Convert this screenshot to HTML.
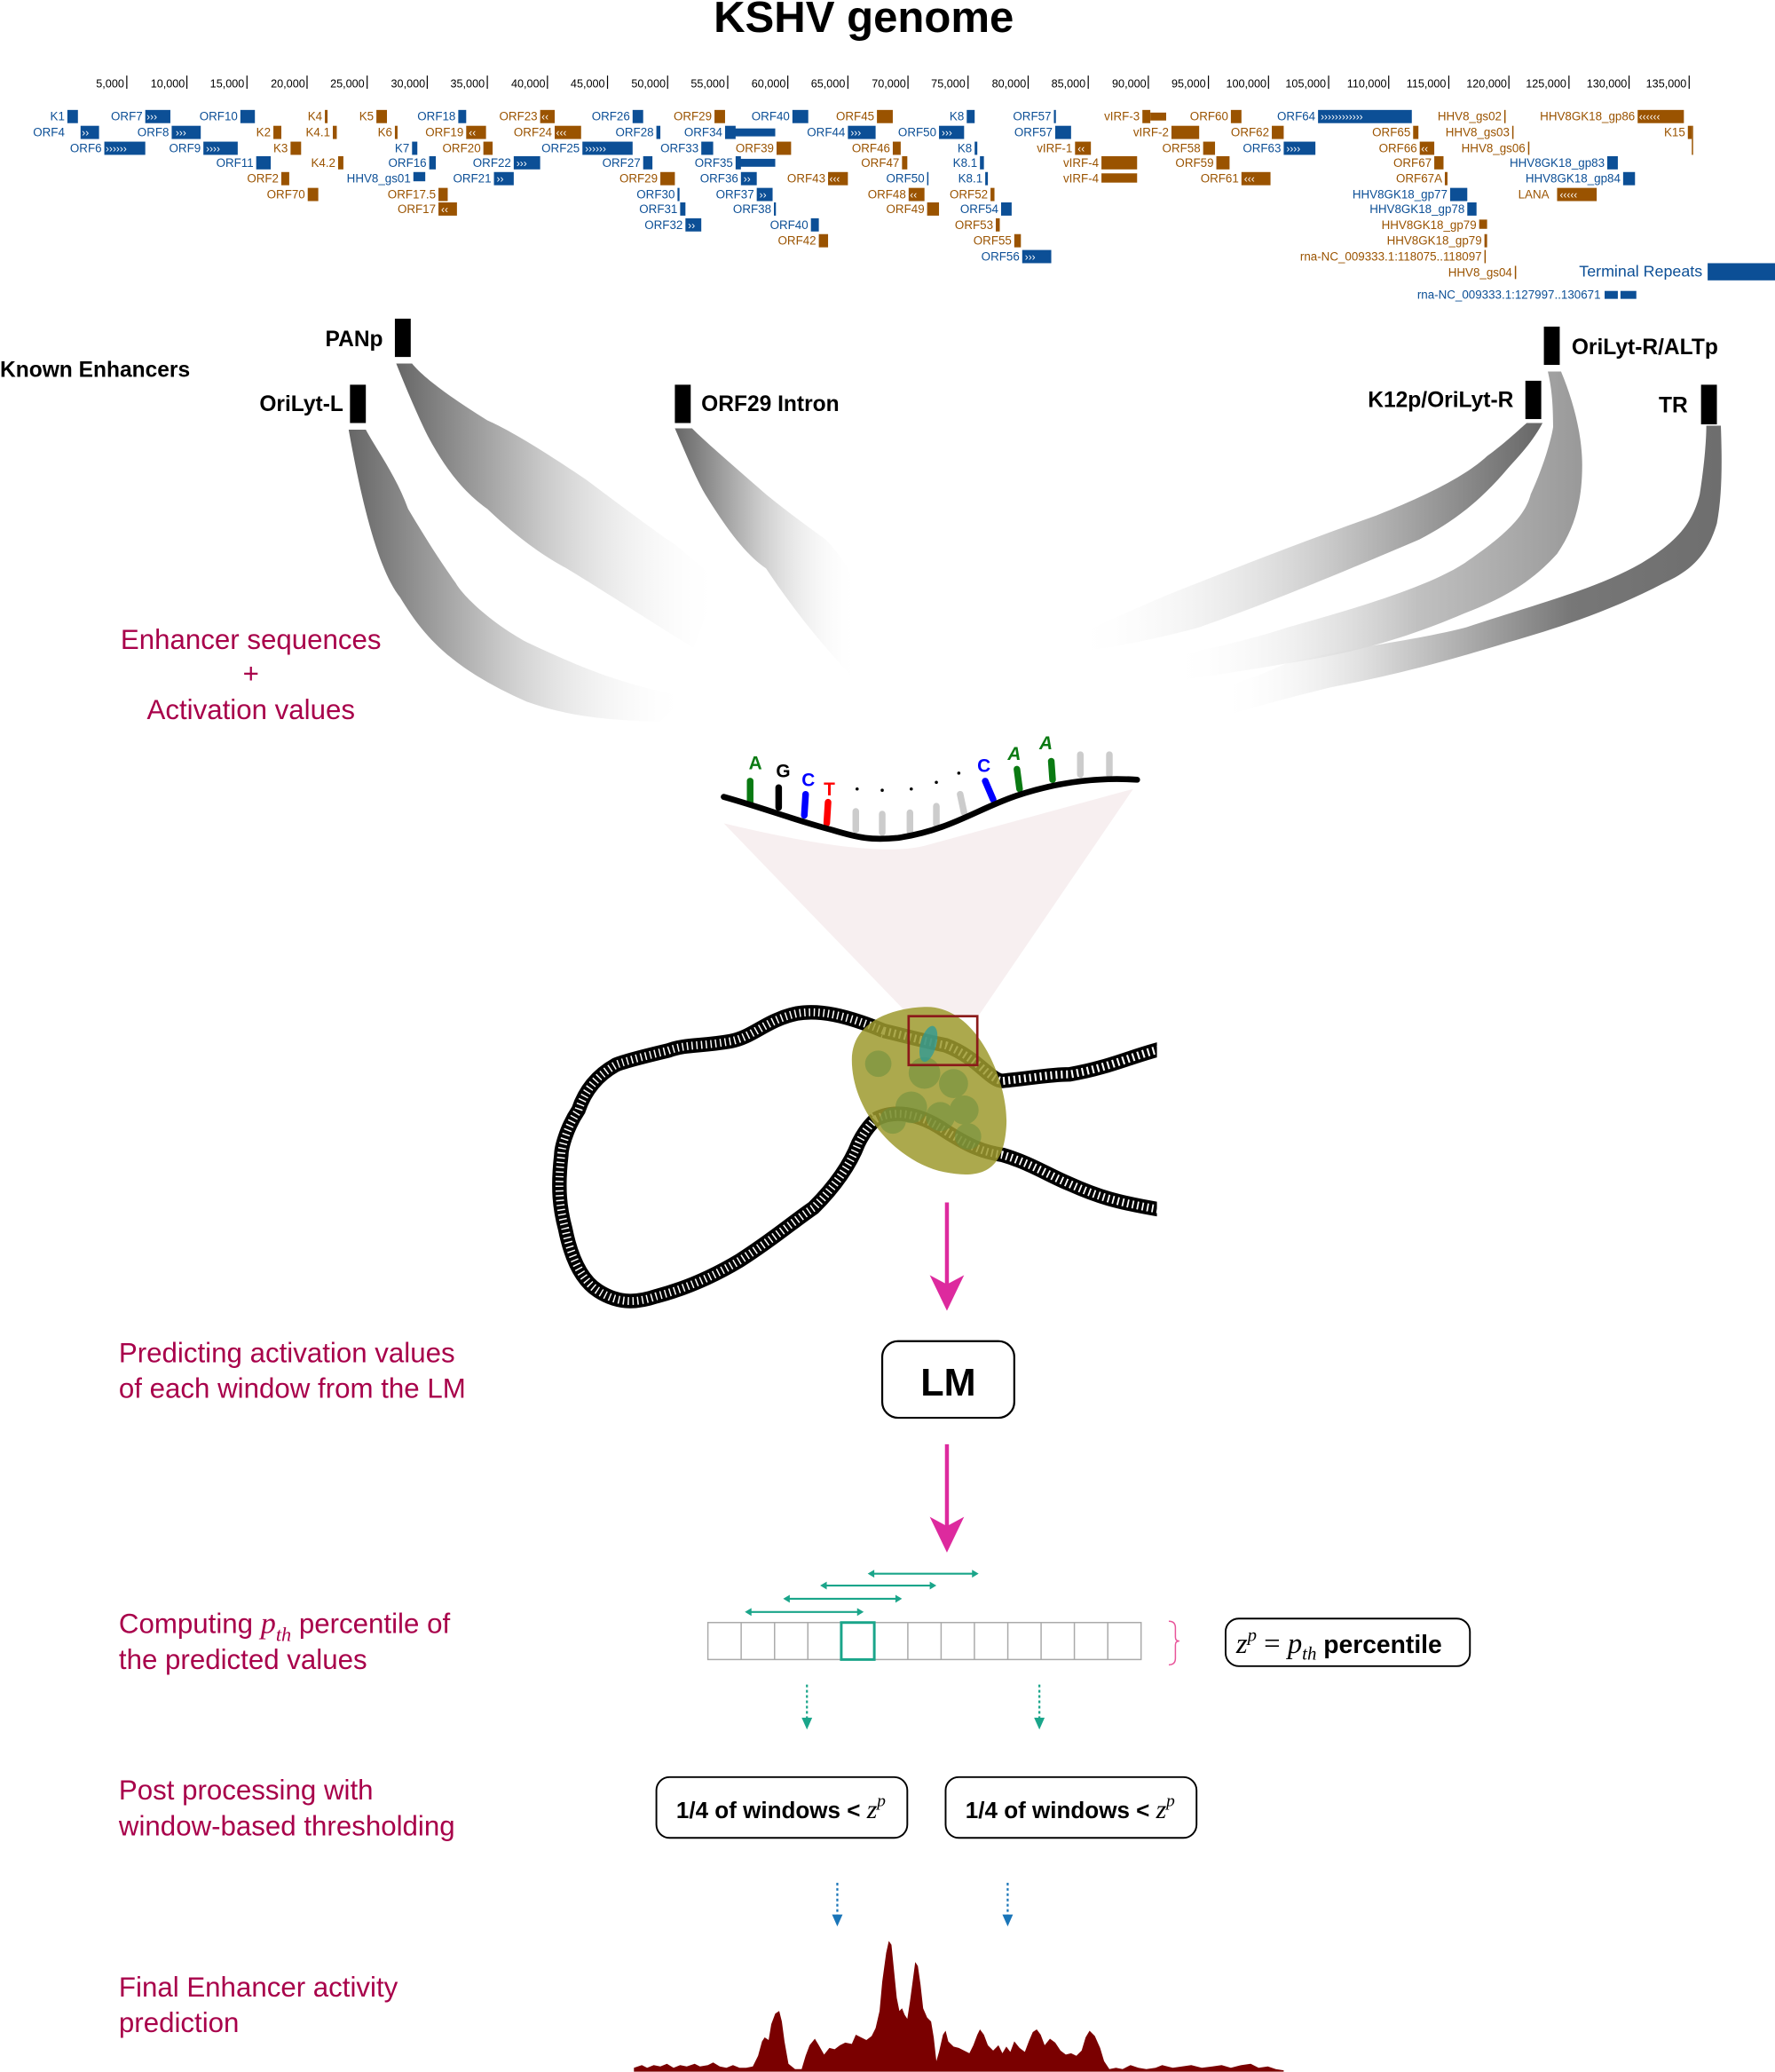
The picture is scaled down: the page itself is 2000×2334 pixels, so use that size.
<!DOCTYPE html>
<html><head><meta charset="utf-8"><style>
html,body{margin:0;padding:0;background:#fff;}
svg{display:block;}
.g{font-family:"Liberation Sans",sans-serif;font-size:9px;}
.b{fill:#0c4f96;} .o{fill:#9a5300;}
.tb{fill:#0c4f96;} .to{fill:#9a5300;}
.bl{font-family:"Liberation Sans",sans-serif;font-weight:bold;font-size:16.5px;fill:#000;}
.rd{font-family:"Liberation Sans",sans-serif;font-size:21px;fill:#a8004a;}
.tk{font-family:"Liberation Sans",sans-serif;font-size:8.5px;fill:#000;}
</style></head><body>
<svg width="2000" height="2334" viewBox="0 0 1344 1568" xmlns="http://www.w3.org/2000/svg">
<defs>
<linearGradient id="gL" x1="0" y1="0" x2="1" y2="0"><stop offset="0" stop-color="#666"/><stop offset="0.45" stop-color="#c8c8c8"/><stop offset="1" stop-color="#fff" stop-opacity="0"/></linearGradient>
<linearGradient id="gR" x1="1" y1="0" x2="0" y2="0"><stop offset="0" stop-color="#666"/><stop offset="0.45" stop-color="#c8c8c8"/><stop offset="1" stop-color="#fff" stop-opacity="0"/></linearGradient>
<linearGradient id="gR2" x1="1" y1="0" x2="0" y2="0"><stop offset="0" stop-color="#999"/><stop offset="0.4" stop-color="#c0c0c0"/><stop offset="1" stop-color="#fff" stop-opacity="0"/></linearGradient>
<linearGradient id="gR3" x1="1" y1="0" x2="0" y2="0"><stop offset="0" stop-color="#6e6e6e"/><stop offset="0.3" stop-color="#777"/><stop offset="0.65" stop-color="#cfcfcf"/><stop offset="1" stop-color="#fff" stop-opacity="0"/></linearGradient>
</defs>

<text x="654" y="24" text-anchor="middle" font-family="Liberation Sans,sans-serif" font-weight="bold" font-size="33">KSHV genome</text>

<g class="tk" text-anchor="end">
<text x="94" y="66">5,000</text><text x="140" y="66">10,000</text><text x="185" y="66">15,000</text><text x="231" y="66">20,000</text><text x="276" y="66">25,000</text><text x="322" y="66">30,000</text><text x="367" y="66">35,000</text><text x="413" y="66">40,000</text><text x="458" y="66">45,000</text><text x="504" y="66">50,000</text><text x="549" y="66">55,000</text><text x="595" y="66">60,000</text><text x="640" y="66">65,000</text><text x="686" y="66">70,000</text><text x="731" y="66">75,000</text><text x="777" y="66">80,000</text><text x="822" y="66">85,000</text><text x="868" y="66">90,000</text><text x="913" y="66">95,000</text><text x="959" y="66">100,000</text><text x="1004" y="66">105,000</text><text x="1050" y="66">110,000</text><text x="1095" y="66">115,000</text><text x="1141" y="66">120,000</text><text x="1186" y="66">125,000</text><text x="1232" y="66">130,000</text><text x="1277" y="66">135,000</text>
</g>
<g stroke="#000" stroke-width="0.8">
<path d="M96 57v10M141.5 57v10M187 57v10M232.5 57v10M278 57v10M323.5 57v10M369 57v10M414.5 57v10M460 57v10M505.5 57v10M551 57v10M596.5 57v10M642 57v10M687.5 57v10M733 57v10M778.5 57v10M824 57v10M869.5 57v10M915 57v10M960.5 57v10M1006 57v10M1051.5 57v10M1097 57v10M1142.5 57v10M1188 57v10M1233.5 57v10M1279 57v10"/>
</g>

<g class="b">
<rect x="51" y="83" width="8" height="10"/><rect x="110" y="83" width="19" height="10"/><rect x="182" y="83" width="11" height="10"/><rect x="347" y="83" width="6" height="10"/><rect x="479" y="83" width="8" height="10"/><rect x="600" y="83" width="12" height="10"/><rect x="732" y="83" width="6" height="10"/><rect x="798" y="83" width="1.5" height="10"/><rect x="998" y="83" width="71" height="10"/>
<rect x="61" y="95" width="14" height="10"/><rect x="130" y="95" width="22" height="10"/><rect x="497" y="95" width="3" height="10"/><rect x="549" y="95" width="8" height="10"/><rect x="555" y="97" width="32" height="6"/><rect x="642" y="95" width="21" height="10"/><rect x="711" y="95" width="19" height="10"/><rect x="799" y="95" width="12" height="10"/>
<rect x="79" y="107" width="31" height="10"/><rect x="154" y="107" width="26" height="10"/><rect x="312" y="107" width="4" height="10"/><rect x="441" y="107" width="38" height="10"/><rect x="531" y="107" width="9" height="10"/><rect x="738" y="107" width="2" height="10"/><rect x="972" y="107" width="24" height="10"/>
<rect x="194" y="118" width="11" height="10"/><rect x="325" y="118" width="5" height="10"/><rect x="389" y="118" width="20" height="10"/><rect x="487" y="118" width="7" height="10"/><rect x="557" y="118" width="4" height="10"/><rect x="560" y="120" width="27" height="6"/><rect x="742" y="118" width="3" height="10"/><rect x="1217" y="118" width="8" height="10"/>
<rect x="313" y="130" width="9" height="7"/><rect x="374" y="130" width="15" height="10"/><rect x="561" y="130" width="12" height="10"/><rect x="702" y="130" width="1" height="10"/><rect x="746" y="130" width="2" height="10"/><rect x="1229" y="130" width="9" height="10"/>
<rect x="513" y="142" width="1.5" height="10"/><rect x="573" y="142" width="12" height="10"/><rect x="1098" y="142" width="13" height="10"/>
<rect x="515" y="153" width="4" height="10"/><rect x="586" y="153" width="1.5" height="10"/><rect x="758" y="153" width="8" height="10"/><rect x="1111" y="153" width="7" height="10"/>
<rect x="519" y="165" width="12" height="10"/><rect x="614" y="165" width="6" height="10"/>
<rect x="774" y="189" width="22" height="10"/>
<rect x="1293" y="199" width="51" height="13"/>
<rect x="1215" y="220" width="10" height="6"/><rect x="1227" y="220" width="12" height="6"/>
</g>
<g class="o">
<rect x="246" y="83" width="2" height="10"/><rect x="285" y="83" width="8" height="10"/><rect x="409" y="83" width="11" height="10"/><rect x="541" y="83" width="8" height="10"/><rect x="664" y="83" width="12" height="10"/><rect x="865" y="83" width="6" height="10"/><rect x="871" y="85" width="12" height="6"/><rect x="932" y="83" width="8" height="10"/><rect x="1139" y="83" width="1" height="10"/><rect x="1240" y="83" width="35" height="10"/>
<rect x="207" y="95" width="6" height="10"/><rect x="252" y="95" width="3" height="10"/><rect x="299" y="95" width="2" height="10"/><rect x="353" y="95" width="15" height="10"/><rect x="420" y="95" width="20" height="10"/><rect x="887" y="95" width="21" height="10"/><rect x="963" y="95" width="9" height="10"/><rect x="1070" y="95" width="4" height="10"/><rect x="1145" y="95" width="1" height="10"/><rect x="1278" y="95" width="3" height="10"/><rect x="1281" y="95" width="1" height="22"/>
<rect x="220" y="107" width="8" height="10"/><rect x="366" y="107" width="7" height="10"/><rect x="588" y="107" width="11" height="10"/><rect x="676" y="107" width="6" height="10"/><rect x="814" y="107" width="12" height="10"/><rect x="911" y="107" width="9" height="10"/><rect x="1075" y="107" width="11" height="10"/><rect x="1157" y="107" width="1" height="10"/>
<rect x="256" y="118" width="4" height="10"/><rect x="683" y="118" width="4" height="10"/><rect x="834" y="118" width="27" height="10"/><rect x="921" y="118" width="10" height="10"/><rect x="1086" y="118" width="7" height="10"/>
<rect x="213" y="130" width="6" height="10"/><rect x="500" y="130" width="11" height="10"/><rect x="627" y="130" width="15" height="10"/><rect x="834" y="131" width="27" height="7"/><rect x="940" y="130" width="22" height="10"/><rect x="1094" y="130" width="2" height="10"/>
<rect x="233" y="142" width="8" height="10"/><rect x="332" y="142" width="7" height="10"/><rect x="688" y="142" width="12" height="10"/><rect x="750" y="142" width="3" height="10"/><rect x="1179" y="142" width="30" height="10"/>
<rect x="332" y="153" width="14" height="10"/><rect x="702" y="153" width="9" height="10"/>
<rect x="754" y="165" width="3" height="10"/><rect x="1120" y="166" width="6" height="7"/>
<rect x="620" y="177" width="7" height="10"/><rect x="768" y="177" width="5" height="10"/><rect x="1124" y="177" width="2" height="10"/>
<rect x="1124" y="189" width="1" height="10"/>
<rect x="1147" y="201" width="1" height="10"/>
</g>
<g font-family="Liberation Sans,sans-serif" font-size="8" fill="#fff">
<text x="111" y="91">›››</text><text x="1000" y="91">››››››››››››</text><text x="62" y="103">››</text><text x="133" y="103">›››</text><text x="644" y="103">›››</text><text x="713" y="103">›››</text><text x="80" y="115">››››››</text><text x="156" y="115">››››</text><text x="443" y="115">››››››</text><text x="974" y="115">››››</text><text x="391" y="126">›››</text><text x="376" y="138">››</text><text x="563" y="138">››</text><text x="575" y="150">››</text><text x="521" y="173">››</text><text x="776" y="197">›››</text>
<text x="1241" y="91">‹‹‹‹‹‹</text><text x="410" y="91">‹‹</text><text x="355" y="103">‹‹</text><text x="421" y="103">‹‹‹</text><text x="1076" y="115">‹‹</text><text x="816" y="115">‹‹</text><text x="628" y="138">‹‹‹</text><text x="942" y="138">‹‹‹</text><text x="1181" y="150">‹‹‹‹‹</text><text x="334" y="161">‹‹</text><text x="689" y="150">‹‹</text>
</g>
<g class="g" text-anchor="end">
<g class="tb">
<text x="49" y="91">K1</text><text x="108" y="91">ORF7</text><text x="180" y="91">ORF10</text><text x="345" y="91">ORF18</text><text x="477" y="91">ORF26</text><text x="598" y="91">ORF40</text><text x="730" y="91">K8</text><text x="796" y="91">ORF57</text><text x="996" y="91">ORF64</text>
<text x="49" y="103">ORF4</text><text x="128" y="103">ORF8</text><text x="495" y="103">ORF28</text><text x="547" y="103">ORF34</text><text x="640" y="103">ORF44</text><text x="709" y="103">ORF50</text><text x="797" y="103">ORF57</text>
<text x="77" y="115">ORF6</text><text x="152" y="115">ORF9</text><text x="310" y="115">K7</text><text x="439" y="115">ORF25</text><text x="529" y="115">ORF33</text><text x="736" y="115">K8</text><text x="970" y="115">ORF63</text>
<text x="192" y="126">ORF11</text><text x="323" y="126">ORF16</text><text x="387" y="126">ORF22</text><text x="485" y="126">ORF27</text><text x="555" y="126">ORF35</text><text x="740" y="126">K8.1</text><text x="1215" y="126">HHV8GK18_gp83</text>
<text x="311" y="138">HHV8_gs01</text><text x="372" y="138">ORF21</text><text x="559" y="138">ORF36</text><text x="700" y="138">ORF50</text><text x="744" y="138">K8.1</text><text x="1227" y="138">HHV8GK18_gp84</text>
<text x="511" y="150">ORF30</text><text x="571" y="150">ORF37</text><text x="1096" y="150">HHV8GK18_gp77</text>
<text x="513" y="161">ORF31</text><text x="584" y="161">ORF38</text><text x="756" y="161">ORF54</text><text x="1109" y="161">HHV8GK18_gp78</text>
<text x="517" y="173">ORF32</text><text x="612" y="173">ORF40</text>
<text x="772" y="197">ORF56</text>
<text x="1212" y="226">rna-NC_009333.1:127997..130671</text>
</g>
<g class="to">
<text x="244" y="91">K4</text><text x="283" y="91">K5</text><text x="407" y="91">ORF23</text><text x="539" y="91">ORF29</text><text x="662" y="91">ORF45</text><text x="863" y="91">vIRF-3</text><text x="930" y="91">ORF60</text><text x="1137" y="91">HHV8_gs02</text><text x="1238" y="91">HHV8GK18_gp86</text>
<text x="205" y="103">K2</text><text x="250" y="103">K4.1</text><text x="297" y="103">K6</text><text x="351" y="103">ORF19</text><text x="418" y="103">ORF24</text><text x="885" y="103">vIRF-2</text><text x="961" y="103">ORF62</text><text x="1068" y="103">ORF65</text><text x="1143" y="103">HHV8_gs03</text><text x="1276" y="103">K15</text>
<text x="218" y="115">K3</text><text x="364" y="115">ORF20</text><text x="586" y="115">ORF39</text><text x="674" y="115">ORF46</text><text x="812" y="115">vIRF-1</text><text x="909" y="115">ORF58</text><text x="1073" y="115">ORF66</text><text x="1155" y="115">HHV8_gs06</text>
<text x="254" y="126">K4.2</text><text x="681" y="126">ORF47</text><text x="832" y="126">vIRF-4</text><text x="919" y="126">ORF59</text><text x="1084" y="126">ORF67</text>
<text x="211" y="138">ORF2</text><text x="498" y="138">ORF29</text><text x="625" y="138">ORF43</text><text x="832" y="138">vIRF-4</text><text x="938" y="138">ORF61</text><text x="1092" y="138">ORF67A</text>
<text x="231" y="150">ORF70</text><text x="330" y="150">ORF17.5</text><text x="686" y="150">ORF48</text><text x="748" y="150">ORF52</text><text x="1173" y="150">LANA</text>
<text x="330" y="161">ORF17</text><text x="700" y="161">ORF49</text>
<text x="752" y="173">ORF53</text><text x="1118" y="173">HHV8GK18_gp79</text>
<text x="618" y="185">ORF42</text><text x="766" y="185">ORF55</text><text x="1122" y="185">HHV8GK18_gp79</text>
<text x="1122" y="197">rna-NC_009333.1:118075..118097</text>
<text x="1145" y="209">HHV8_gs04</text>
</g>
</g>
<text x="1289" y="209" text-anchor="end" font-family="Liberation Sans,sans-serif" font-size="12" fill="#0c4f96">Terminal Repeats</text>

<path d="M264 325 C272 370 285 430 303 452 C320 480 340 505 399 531 C430 542 460 545 500 546 L520 527 C480 520 450 510 399 486 C370 470 350 450 345 441 C330 420 318 400 309 385 C300 360 285 340 277 325 Z" fill="url(#gL)"/>
<path d="M300 275 C310 300 318 318 324 330 C340 360 355 375 369 385 C390 405 410 420 429 430 C470 455 500 475 525 490 L545 440 C520 420 510 410 505 408 C480 390 460 375 444 363 C410 340 385 325 369 318 C340 300 320 285 312 275 Z" fill="url(#gL)"/>
<path d="M511 324 C520 345 527 362 534 374 C550 400 565 420 580 430 C600 460 620 485 645 512 L650 445 C640 425 632 415 625 408 C600 390 590 382 580 374 C555 352 535 335 524 324 Z" fill="url(#gL)"/>
<path d="M1168 320 C1160 335 1150 345 1142 354 C1120 380 1100 395 1075 408 C1000 440 950 460 907 475 C870 485 840 490 813 494 L813 481 C840 470 870 455 907 441 C960 420 1000 405 1042 390 C1080 375 1110 360 1126 345 C1140 335 1150 325 1156 320 Z" fill="url(#gR)"/>
<path d="M1182 281 C1192 305 1198 330 1198 352 C1198 380 1192 400 1179 419 C1160 440 1140 452 1109 464 C1060 485 1020 495 974 502 C940 508 910 512 887 516 L887 497 C920 490 950 483 974 475 C1020 462 1080 445 1109 426 C1140 405 1155 390 1159 374 C1170 350 1175 330 1176 323 C1176 300 1174 290 1172 281 Z" fill="url(#gR2)"/>
<path d="M1303 322 C1304 350 1304 375 1300 396 C1293 420 1280 432 1260 441 C1220 462 1180 475 1142 486 C1090 502 1050 512 1008 520 C975 528 950 535 924 543 L924 520 C945 515 960 508 974 502 C1020 490 1070 485 1109 475 C1170 455 1210 445 1243 426 C1270 410 1282 395 1287 374 C1290 355 1292 335 1292 322 Z" fill="url(#gR3)"/>

<g fill="#000">
<rect x="299" y="241" width="12" height="29"/><rect x="265" y="291" width="12" height="29"/><rect x="511" y="291" width="12" height="29"/>
<rect x="1169" y="247" width="12" height="29"/><rect x="1155" y="288" width="12" height="29"/><rect x="1288" y="291" width="12" height="30"/>
</g>
<text x="0" y="285" class="bl" font-size="17.5">Known Enhancers</text>
<text x="290" y="262" class="bl" text-anchor="end" font-size="17.5">PANp</text>
<text x="260" y="311" class="bl" text-anchor="end" font-size="17.5">OriLyt-L</text>
<text x="531" y="311" class="bl" font-size="17.5">ORF29 Intron</text>
<text x="1190" y="268" class="bl" font-size="17.5">OriLyt-R/ALTp</text>
<text x="1146" y="308" class="bl" text-anchor="end" font-size="17.5">K12p/OriLyt-R</text>
<text x="1278" y="312" class="bl" text-anchor="end" font-size="17.5">TR</text>

<text x="190" y="491" class="rd" text-anchor="middle">Enhancer sequences</text>
<text x="190" y="517" class="rd" text-anchor="middle">+</text>
<text x="190" y="544" class="rd" text-anchor="middle">Activation values</text>

<path d="M548 623 Q660 650 700 640 L858 597 L740 770 L690 770 Z" fill="#f7eff0"/>

<g stroke-linecap="round" stroke-width="5">
<path d="M568 591L568 607" stroke="#0a7a12"/><path d="M589.6 596L589.6 611" stroke="#000"/><path d="M610 601L609 617" stroke="#00f"/><path d="M627 607L626 623" stroke="#f00"/>
<path d="M648 614V628M668 616V630M689 615V629M709 610V624M727 601L730 615" stroke="#ccc"/>
<path d="M746 591L752 605" stroke="#00f"/><path d="M770 582L772 597" stroke="#0a7a12"/><path d="M796 576L797 590" stroke="#0a7a12"/>
<path d="M818 571V586M840 571V586" stroke="#ccc"/>
</g>
<path d="M548 603 C580 612 600 620 630 628 C650 634 660 636 680 634 C720 628 740 612 770 602 C800 592 830 588 861 590" stroke="#000" stroke-width="4.5" fill="none" stroke-linecap="round"/>
<g font-family="Liberation Sans,sans-serif" font-weight="bold" font-size="14">
<text x="572" y="582" fill="#0a7a12" text-anchor="middle">A</text><text x="593" y="588" fill="#000" text-anchor="middle">G</text><text x="612" y="595" fill="#00f" text-anchor="middle">C</text><text x="628" y="602" fill="#f00" text-anchor="middle">T</text>
<text x="745" y="584" fill="#00f" text-anchor="middle">C</text><text x="768" y="575" fill="#0a7a12" text-anchor="middle" font-style="italic">A</text><text x="792" y="567" fill="#0a7a12" text-anchor="middle" font-style="italic">A</text>
</g>
<g fill="#000"><circle cx="649" cy="597" r="1.2"/><circle cx="668" cy="598" r="1.2"/><circle cx="690" cy="597" r="1.2"/><circle cx="709" cy="592" r="1.2"/><circle cx="726" cy="585" r="1.2"/></g>

<g fill="none" stroke-linecap="butt">
<path d="M669 780 C640 768 620 764 603 767 C580 772 570 785 553 788 C530 792 520 790 506 795 C485 800 470 804 466 806 C450 815 442 828 438 840 C428 855 425 870 425 874 C422 900 424 915 428 930 C433 955 442 970 453 977 C470 988 485 985 497 981 C520 975 540 966 560 954 C585 938 600 925 616 914 C635 895 645 878 650 865 C655 855 660 850 663 847" stroke="#000" stroke-width="11"/>
<path d="M669 780 C640 768 620 764 603 767 C580 772 570 785 553 788 C530 792 520 790 506 795 C485 800 470 804 466 806 C450 815 442 828 438 840 C428 855 425 870 425 874 C422 900 424 915 428 930 C433 955 442 970 453 977 C470 988 485 985 497 981 C520 975 540 966 560 954 C585 938 600 925 616 914 C635 895 645 878 650 865 C655 855 660 850 663 847" stroke="#fff" stroke-width="6" stroke-dasharray="1 2.6"/>
<path d="M669 780 C690 785 700 788 716 791 C740 800 750 818 759 818 C780 816 795 813 810 813 C840 808 860 798 882 793" stroke="#000" stroke-width="11"/>
<path d="M669 780 C690 785 700 788 716 791 C740 800 750 818 759 818 C780 816 795 813 810 813 C840 808 860 798 882 793" stroke="#fff" stroke-width="6" stroke-dasharray="1.4 2.6"/>
<path d="M663 847 C680 838 700 845 716 856 C735 868 745 872 759 874 C780 880 795 890 810 896 C830 905 845 910 882 916" stroke="#000" stroke-width="11"/>
<path d="M663 847 C680 838 700 845 716 856 C735 868 745 872 759 874 C780 880 795 890 810 896 C830 905 845 910 882 916" stroke="#fff" stroke-width="6" stroke-dasharray="1.2 2.6"/>
</g>
<rect x="876" y="780" width="20" height="150" fill="#fff"/>
<path d="M700 762 C740 760 764 820 762 852 C760 885 745 893 715 887 C680 880 645 842 645 802 C645 775 672 763 700 762 Z" fill="#9d9a2e" opacity="0.85"/>
<g fill="#6c8f3d" opacity="0.55">
<circle cx="665" cy="805" r="10"/><circle cx="700" cy="812" r="12"/><circle cx="722" cy="820" r="11"/><circle cx="730" cy="840" r="11"/><circle cx="690" cy="838" r="12"/><circle cx="712" cy="845" r="11"/><circle cx="733" cy="860" r="10"/><circle cx="676" cy="848" r="10"/></g>
<ellipse cx="703" cy="790" rx="6" ry="14" fill="#2a9a9a" opacity="0.75" transform="rotate(15 703 790)"/>
<rect x="688" y="769" width="52" height="37" fill="none" stroke="#8b1a1a" stroke-width="1.8"/>

<g fill="#dd2a9e" stroke="#dd2a9e">
<path d="M717 910V975" stroke-width="3"/><path d="M704 965 L717 972 L730 965 L717 992 Z" stroke="none"/>
<path d="M717 1093V1158" stroke-width="3"/><path d="M704 1148 L717 1155 L730 1148 L717 1175 Z" stroke="none"/>
</g>

<text x="90" y="1031" class="rd">Predicting activation values</text>
<text x="90" y="1058" class="rd">of each window from the LM</text>

<rect x="668" y="1015" width="100" height="58" rx="12" fill="#fff" stroke="#000" stroke-width="1.5"/>
<text x="718" y="1056" text-anchor="middle" font-family="Liberation Sans,sans-serif" font-weight="bold" font-size="29">LM</text>

<g stroke="#1aa58a" stroke-width="1.4" fill="#1aa58a">
<path d="M659 1191H739M623 1200H707M595 1210H681M566 1220H652"/>
<path d="M657 1191l5 -3v6zM741 1191l-5 -3v6zM621 1200l5 -3v6zM709 1200l-5 -3v6zM593 1210l5 -3v6zM683 1210l-5 -3v6zM564 1220l5 -3v6zM654 1220l-5 -3v6z" stroke="none"/>
</g>
<g fill="#fff" stroke="#aaa" stroke-width="1">
<rect x="536" y="1228" width="328" height="28"/>
<path d="M561.2 1228v28M586.5 1228v28M611.7 1228v28M636.9 1228v28M662.2 1228v28M687.4 1228v28M712.6 1228v28M737.8 1228v28M763.1 1228v28M788.3 1228v28M813.5 1228v28M838.8 1228v28"/>
</g>
<rect x="637" y="1228" width="25" height="28" fill="none" stroke="#1aa58a" stroke-width="2"/>
<path d="M885 1227 Q890 1227 890 1232 V1239 Q890 1242 893 1242 Q890 1242 890 1245 V1255 Q890 1260 885 1260" fill="none" stroke="#e8559a" stroke-width="1"/>
<rect x="928" y="1225" width="185" height="36" rx="10" fill="#fff" stroke="#000" stroke-width="1.3"/>
<text x="936" y="1251" font-family="Liberation Serif,serif" font-size="22"><tspan font-style="italic">z</tspan><tspan font-style="italic" font-size="14" dy="-9">p</tspan><tspan dy="9" font-size="22"> = </tspan><tspan font-style="italic">p</tspan><tspan font-style="italic" font-size="14" dy="5">th</tspan><tspan dy="-5" font-family="Liberation Sans,sans-serif" font-size="19" font-weight="bold"> percentile</tspan></text>

<text x="90" y="1236" class="rd">Computing <tspan font-family="Liberation Serif,serif" font-style="italic" font-size="23">p</tspan><tspan font-family="Liberation Serif,serif" font-style="italic" font-size="15" dy="6">th</tspan><tspan dy="-6"> percentile of</tspan></text>
<text x="90" y="1263" class="rd">the predicted values</text>

<g stroke="#1aa58a" stroke-width="1.5" stroke-dasharray="2 2"><path d="M611 1275V1301M787 1275V1301"/></g>
<g fill="#1aa58a"><path d="M607 1300h8l-4 9zM783 1300h8l-4 9z"/></g>

<text x="90" y="1362" class="rd">Post processing with</text>
<text x="90" y="1389" class="rd">window-based thresholding</text>

<rect x="497" y="1345" width="190" height="46" rx="10" fill="#fff" stroke="#000" stroke-width="1.3"/>
<rect x="716" y="1345" width="190" height="46" rx="10" fill="#fff" stroke="#000" stroke-width="1.3"/>
<text x="512" y="1376" font-family="Liberation Sans,sans-serif" font-size="17.5" font-weight="bold">1/4 of windows &lt; <tspan font-family="Liberation Serif,serif" font-style="italic" font-weight="normal" font-size="20">z</tspan><tspan font-family="Liberation Serif,serif" font-style="italic" font-weight="normal" font-size="13" dy="-9">p</tspan></text>
<text x="731" y="1376" font-family="Liberation Sans,sans-serif" font-size="17.5" font-weight="bold">1/4 of windows &lt; <tspan font-family="Liberation Serif,serif" font-style="italic" font-weight="normal" font-size="20">z</tspan><tspan font-family="Liberation Serif,serif" font-style="italic" font-weight="normal" font-size="13" dy="-9">p</tspan></text>

<g stroke="#1a75b8" stroke-width="1.5" stroke-dasharray="2 2"><path d="M634 1425V1450M763 1425V1450"/></g>
<g fill="#1a75b8"><path d="M630 1449h8l-4 9zM759 1449h8l-4 9z"/></g>

<text x="90" y="1511" class="rd">Final Enhancer activity</text>
<text x="90" y="1538" class="rd">prediction</text>

<path fill="#7a0000" d="M480 1568 L480 1565 L486 1563 L490 1565 L495 1563 L500 1564 L505 1562 L510 1565 L515 1563 L520 1564 L526 1562 L530 1564 L536 1563 L540 1561 L545 1564 L550 1565 L555 1563 L560 1565 L565 1565 L570 1564 L574 1556 L577 1545 L579 1542 L582 1544 L584 1532 L587 1524 L590 1522 L592 1530 L594 1545 L597 1562 L602 1566 L607 1566 L610 1556 L613 1548 L617 1543 L620 1548 L624 1555 L628 1550 L632 1551 L636 1548 L640 1546 L645 1547 L648 1540 L652 1542 L656 1544 L660 1541 L663 1535 L666 1522 L668 1500 L671 1478 L673 1469 L675 1472 L677 1492 L679 1512 L681 1522 L683 1520 L685 1525 L687 1528 L689 1515 L691 1500 L693 1485 L695 1488 L697 1502 L699 1520 L702 1527 L705 1530 L707 1542 L709 1560 L711 1553 L714 1540 L716 1537 L718 1545 L722 1549 L726 1550 L730 1552 L734 1554 L737 1548 L740 1540 L742 1536 L745 1540 L748 1548 L752 1552 L756 1548 L759 1554 L762 1549 L765 1553 L768 1545 L772 1550 L776 1553 L779 1545 L782 1538 L785 1536 L788 1540 L791 1548 L795 1543 L799 1546 L803 1552 L807 1555 L811 1554 L815 1556 L819 1552 L822 1542 L825 1537 L829 1541 L833 1550 L836 1560 L840 1566 L845 1565 L850 1566 L856 1563 L862 1565 L868 1566 L875 1565 L880 1563 L888 1565 L895 1564 L902 1563 L910 1565 L918 1564 L925 1563 L932 1565 L940 1563 L947 1562 L953 1565 L960 1564 L966 1566 L972 1567 L972 1568 Z"/>
</svg>
</body></html>
